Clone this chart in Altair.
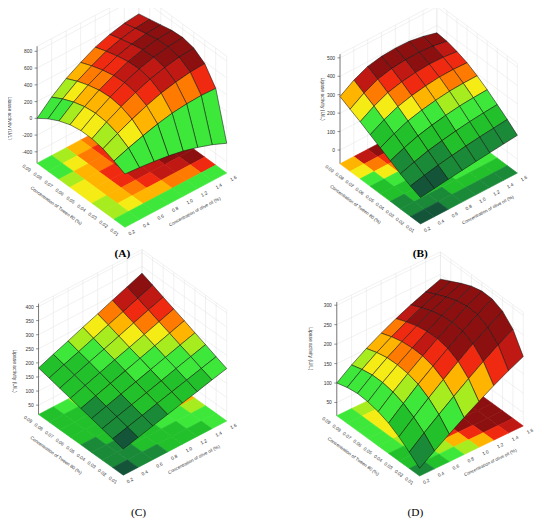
import altair as alt
import pandas as pd

# ---------------- data ----------------
OIL = [0.2, 0.4, 0.6, 0.8, 1.0, 1.2, 1.4, 1.6]
OIL_LABELS = ["0.2", "0.4", "0.6", "0.8", "1.0", "1.2", "1.4", "1.6"]
TWEEN = [0.01, 0.02, 0.03, 0.04, 0.05, 0.06, 0.07, 0.08, 0.09]
TWEEN_LABELS = ["0.01", "0.02", "0.03", "0.04", "0.05", "0.06", "0.07", "0.08", "0.09"]

# lipase activity (U/L); one row per Tween 80 level (0.01 -> 0.09), one column per olive oil level (0.2 -> 1.6)
Z_A = [
    [100, 85, 65, 40, 5, -45, -105, -180],
    [160, 223, 277, 324, 360, 379, 387, 380],
    [210, 300, 379, 447, 504, 543, 570, 580],
    [235, 341, 432, 509, 576, 622, 654, 670],
    [235, 351, 450, 531, 602, 650, 684, 700],
    [210, 334, 438, 521, 594, 643, 676, 690],
    [160, 293, 403, 489, 565, 615, 647, 660],
    [90, 235, 354, 445, 527, 580, 615, 630],
    [0, 160, 290, 390, 480, 540, 580, 600],
]
Z_B = [
    [68, 78, 88, 97, 106, 114, 122, 130],
    [90, 108, 124, 137, 149, 159, 167, 175],
    [115, 140, 162, 177, 190, 201, 209, 215],
    [145, 176, 202, 220, 234, 245, 251, 255],
    [175, 212, 242, 261, 275, 285, 289, 290],
    [205, 247, 279, 299, 312, 321, 323, 320],
    [235, 280, 314, 333, 344, 350, 348, 340],
    [262, 310, 346, 364, 372, 375, 368, 355],
    [290, 340, 375, 390, 395, 393, 380, 360],
]
Z_C = [
    [110, 123, 137, 150, 163, 176, 190, 203],
    [119, 133, 147, 162, 176, 190, 204, 218],
    [128, 143, 158, 173, 188, 204, 219, 234],
    [137, 153, 169, 185, 201, 217, 233, 249],
    [146, 163, 180, 197, 214, 231, 248, 265],
    [155, 173, 191, 209, 226, 244, 262, 280],
    [164, 183, 202, 220, 239, 258, 277, 295],
    [173, 193, 212, 232, 252, 271, 291, 311],
    [182, 203, 223, 244, 264, 285, 305, 326],
]
Z_D = [
    [36, 62, 87, 111, 134, 156, 176, 194],
    [58, 89, 118, 146, 173, 199, 223, 245],
    [78, 110, 141, 170, 198, 225, 249, 272],
    [94, 126, 157, 185, 212, 238, 262, 284],
    [104, 136, 165, 192, 218, 242, 264, 285],
    [110, 141, 168, 193, 217, 239, 259, 278],
    [112, 141, 167, 190, 212, 232, 249, 266],
    [108, 136, 161, 183, 203, 221, 237, 252],
    [100, 128, 152, 173, 192, 209, 224, 238],
]
ZTICKS = {
    "A": [-400, -200, 0, 200, 400, 600, 800],
    "B": [0, 100, 200, 300, 400, 500],
    "C": [50, 100, 150, 200, 250, 300, 350, 400],
    "D": [50, 100, 150, 200, 250, 300],
}
PANELS = ["A", "B", "C", "D"]
SURF = {"A": Z_A, "B": Z_B, "C": Z_C, "D": Z_D}
PANEL_TEXT = {"A": "(A)", "B": "(B)", "C": "(C)", "D": "(D)"}
Z_TITLE = "Lipase activity (U/L)"
TWEEN_TITLE = "Concentration of Tween 80 (%)"
OIL_TITLE = "Concentration of olive oil (%)"

# ---------------- layout of each 3-D box on the page (pixels) ----------------
# L/F/R: left, front and right corners of the floor; zf: floor level; k: px per unit;
# ztop: top of axis/walls; lo/hi: colour range; tdx/tz: z-title placement; px/py: panel letter
LAYOUT = {
    "A": dict(Lx=37.5, Ly=161.7, Fx=126.7, Fy=226.7, Rx=230.0, Ry=171.7, zf=-536, k=0.085,
              ztop=860, lo=-420, hi=660, tdx=-27, tz=0, px=124, py=254, bold=1),
    "B": dict(Lx=345.0, Ly=162.3, Fx=426.7, Fy=223.3, Rx=525.0, Ry=171.7, zf=-75, k=0.187,
              ztop=520, lo=80, hi=370, tdx=-17, tz=276, px=426.5, py=254, bold=1),
    "C": dict(Lx=39.0, Ly=416.7, Fx=125.0, Fy=478.3, Rx=230.0, Ry=423.3, zf=17, k=0.286,
              ztop=410, lo=110, hi=305, tdx=-24, tz=171, px=140.5, py=517, bold=0),
    "D": dict(Lx=341.7, Ly=418.0, Fx=425.8, Fy=479.2, Rx=531.0, Ry=428.3, zf=16, k=0.395,
              ztop=308, lo=10, hi=225, tdx=-26, tz=188, px=421.5, py=517, bold=0),
}
GEO_KEYS = ["Lx", "Ly", "Fx", "Fy", "Rx", "Ry", "zf", "k", "lo", "hi", "tdx", "tz", "ztop"]

TH = [0.1, 0.25, 0.45, 0.58, 0.65, 0.71, 0.77, 0.83, 0.9, 0.96]
COLS = ["#14553a", "#1a8a38", "#22c02a", "#3ee83a", "#a6ec1e", "#f4ec14",
        "#ffb400", "#ff7a00", "#f02a10", "#c01812", "#8c1010"]

O0, OSPAN = OIL[0], OIL[-1] - OIL[0]
T1, TSPAN = TWEEN[-1], TWEEN[-1] - TWEEN[0]


def geo(p):
    return {key: LAYOUT[p][key] for key in GEO_KEYS}


def sx_expr(o, t):
    return (f"datum.Lx + ((({T1}) - datum.{t})/({TSPAN}))*(datum.Fx - datum.Lx)"
            f" + ((datum.{o} - ({O0}))/({OSPAN}))*(datum.Rx - datum.Fx)")


def sy_expr(o, t, z=None):
    e = (f"datum.Ly + ((({T1}) - datum.{t})/({TSPAN}))*(datum.Fy - datum.Ly)"
         f" + ((datum.{o} - ({O0}))/({OSPAN}))*(datum.Ry - datum.Fy)")
    if z:
        e += f" - (datum.{z} - datum.zf)*datum.k"
    return e


# ---------------- cells of the surfaces ----------------
cell_rows = []
for p in PANELS:
    Z = SURF[p]
    g = LAYOUT[p]
    for j in range(len(TWEEN) - 1):
        for i in range(len(OIL) - 1):
            corners = [(i, j), (i + 1, j), (i + 1, j + 1), (i, j + 1)]
            zc = sum(Z[b][a] for a, b in corners) / 4.0
            uc = (i + 0.5) / (len(OIL) - 1)
            vc = 1 - (j + 0.5) / (len(TWEEN) - 1)
            depth = g["Ly"] + vc * (g["Fy"] - g["Ly"]) + uc * (g["Ry"] - g["Fy"])
            for n, (a, b) in enumerate(corners):
                cell_rows.append(dict(panel=p, cell=f"{p}-{i}-{j}", n=n, oil=OIL[a], tween=TWEEN[b],
                                      z=Z[b][a], zc=zc, depth=depth, **geo(p)))
cells = pd.DataFrame(cell_rows).sort_values(["panel", "depth", "cell", "n"]).reset_index(drop=True)

# ---------------- back walls and z axis ----------------
wall_rows, axis_rows = [], []
for p in PANELS:
    g = LAYOUT[p]
    for o in OIL:
        wall_rows.append(dict(o1=o, t1=TWEEN[-1], z1=g["zf"], o2=o, t2=TWEEN[-1], z2=g["ztop"], **geo(p)))
    for t in TWEEN:
        wall_rows.append(dict(o1=OIL[-1], t1=t, z1=g["zf"], o2=OIL[-1], t2=t, z2=g["ztop"], **geo(p)))
    for z in ZTICKS[p] + [g["ztop"]]:
        wall_rows.append(dict(o1=OIL[0], t1=TWEEN[-1], z1=z, o2=OIL[-1], t2=TWEEN[-1], z2=z, **geo(p)))
        wall_rows.append(dict(o1=OIL[-1], t1=TWEEN[-1], z1=z, o2=OIL[-1], t2=TWEEN[0], z2=z, **geo(p)))
    axis_rows.append(dict(o1=OIL[0], t1=TWEEN[-1], z1=g["zf"], o2=OIL[0], t2=TWEEN[-1], z2=g["ztop"], **geo(p)))
walls = pd.DataFrame(wall_rows)
axis_df = pd.DataFrame(axis_rows)

zlab = pd.DataFrame([dict(oil=OIL[0], tween=TWEEN[-1], z=z, label=str(z), **geo(p))
                     for p in PANELS for z in ZTICKS[p]])
tlab = pd.DataFrame([dict(oil=OIL[0], tween=t, label=lab, **geo(p))
                     for p in PANELS for t, lab in zip(TWEEN, TWEEN_LABELS)])
olab = pd.DataFrame([dict(oil=o, tween=TWEEN[0], label=lab, **geo(p))
                     for p in PANELS for o, lab in zip(OIL, OIL_LABELS)])
ttl = pd.DataFrame([dict(oil=OIL[0], tween=TWEEN[4], label=TWEEN_TITLE, **geo(p)) for p in PANELS])
otl = pd.DataFrame([dict(oil=OIL[4] - 0.1, tween=TWEEN[0], label=OIL_TITLE, **geo(p)) for p in PANELS])
ztl = pd.DataFrame([dict(oil=OIL[0], tween=TWEEN[-1], z=LAYOUT[p]["tz"], label=Z_TITLE, **geo(p)) for p in PANELS])
plab = pd.DataFrame([dict(label=PANEL_TEXT[p], x=LAYOUT[p]["px"], y=LAYOUT[p]["py"], bold=LAYOUT[p]["bold"])
                     for p in PANELS])

# ---------------- encodings ----------------
XS = alt.Scale(domain=[8, 550], nice=False, zero=False)
YS = alt.Scale(domain=[8, 521], nice=False, zero=False, reverse=True)
FILL = alt.Scale(type="threshold", domain=TH, range=COLS)
T_EXPR = "clamp((datum.zc - datum.lo)/(datum.hi - datum.lo), 0, 1)"
X = alt.X("sx:Q", scale=XS, axis=None)
Y = alt.Y("sy:Q", scale=YS, axis=None)

wall_layer = alt.Chart(walls).transform_calculate(
    sx=sx_expr("o1", "t1"), sy=sy_expr("o1", "t1", "z1"),
    sx2=sx_expr("o2", "t2"), sy2=sy_expr("o2", "t2", "z2"),
).mark_rule(color="#e2e2e2", strokeWidth=0.5).encode(x=X, y=Y, x2="sx2:Q", y2="sy2:Q")

axis_layer = alt.Chart(axis_df).transform_calculate(
    sx=sx_expr("o1", "t1"), sy=sy_expr("o1", "t1", "z1"),
    sx2=sx_expr("o2", "t2"), sy2=sy_expr("o2", "t2", "z2"),
).mark_rule(color="#444", strokeWidth=0.7).encode(x=X, y=Y, x2="sx2:Q", y2="sy2:Q")

tick_layer = alt.Chart(zlab).transform_calculate(
    sx=sx_expr("oil", "tween"), sy=sy_expr("oil", "tween", "z"),
).transform_calculate(sx2="datum.sx - 2.5").mark_rule(color="#444", strokeWidth=0.6).encode(
    x=X, y=Y, x2="sx2:Q")

floor_layer = alt.Chart(cells).transform_calculate(
    sx=sx_expr("oil", "tween"), sy=sy_expr("oil", "tween"), t=T_EXPR,
).mark_line(interpolate="linear-closed", strokeWidth=0.6).encode(
    x=X, y=Y, detail="cell:N", order=alt.Order("n:Q"),
    fill=alt.Fill("t:Q", scale=FILL, legend=None),
    stroke=alt.Stroke("t:Q", scale=FILL, legend=None),
)

surf_layer = alt.Chart(cells).transform_calculate(
    sx=sx_expr("oil", "tween"), sy=sy_expr("oil", "tween", "z"), t=T_EXPR,
).mark_line(interpolate="linear-closed", strokeWidth=0.6, strokeOpacity=0.9).encode(
    x=X, y=Y, detail="cell:N", order=alt.Order("n:Q"),
    fill=alt.Fill("t:Q", scale=FILL, legend=None),
    stroke=alt.value("#111111"),
)

FONT = "Liberation Sans"
zlab_layer = alt.Chart(zlab).transform_calculate(
    sx=sx_expr("oil", "tween") + " - 5", sy=sy_expr("oil", "tween", "z"),
).mark_text(align="right", baseline="middle", fontSize=5, font=FONT, color="#333").encode(
    x=X, y=Y, text="label:N")

ztitle_layer = alt.Chart(ztl).transform_calculate(
    sx=sx_expr("oil", "tween") + " + datum.tdx", sy=sy_expr("oil", "tween", "z"),
).mark_text(align="center", baseline="middle", fontSize=5, font=FONT, color="#333", angle=90).encode(
    x=X, y=Y, text="label:N")

tlab_layer = alt.Chart(tlab).transform_calculate(
    sx=sx_expr("oil", "tween") + " - 11", sy=sy_expr("oil", "tween") + " + 5.5",
    ang="atan2(datum.Fy - datum.Ly, datum.Fx - datum.Lx)*180/PI",
).mark_text(align="center", baseline="middle", fontSize=4.8, font=FONT, color="#333").encode(
    x=X, y=Y, text="label:N", angle=alt.Angle("ang:Q", scale=None))

olab_layer = alt.Chart(olab).transform_calculate(
    sx=sx_expr("oil", "tween") + " + 7", sy=sy_expr("oil", "tween") + " + 6",
    ang="360 + atan2(datum.Ry - datum.Fy, datum.Rx - datum.Fx)*180/PI",
).mark_text(align="center", baseline="middle", fontSize=4.8, font=FONT, color="#333").encode(
    x=X, y=Y, text="label:N", angle=alt.Angle("ang:Q", scale=None))

ttitle_layer = alt.Chart(ttl).transform_calculate(
    sx=sx_expr("oil", "tween") + " - 25.5", sy=sy_expr("oil", "tween") + " + 11",
    ang="atan2(datum.Fy - datum.Ly, datum.Fx - datum.Lx)*180/PI",
).mark_text(align="center", baseline="middle", fontSize=4.6, font=FONT, color="#333").encode(
    x=X, y=Y, text="label:N", angle=alt.Angle("ang:Q", scale=None))

otitle_layer = alt.Chart(otl).transform_calculate(
    sx=sx_expr("oil", "tween") + " + 19.5", sy=sy_expr("oil", "tween") + " + 12",
    ang="360 + atan2(datum.Ry - datum.Fy, datum.Rx - datum.Fx)*180/PI",
).mark_text(align="center", baseline="middle", fontSize=4.6, font=FONT, color="#333").encode(
    x=X, y=Y, text="label:N", angle=alt.Angle("ang:Q", scale=None))

pl_bold = alt.Chart(plab).transform_filter("datum.bold == 1").transform_calculate(
    sx="datum.x", sy="datum.y").mark_text(
    align="center", baseline="middle", fontSize=11.5, font="Liberation Serif", fontWeight="bold",
    color="#000").encode(x=X, y=Y, text="label:N")
pl_norm = alt.Chart(plab).transform_filter("datum.bold == 0").transform_calculate(
    sx="datum.x", sy="datum.y").mark_text(
    align="center", baseline="middle", fontSize=11.5, font="Liberation Serif",
    color="#000").encode(x=X, y=Y, text="label:N")

chart = alt.layer(
    wall_layer, axis_layer, tick_layer, floor_layer, surf_layer,
    zlab_layer, ztitle_layer, tlab_layer, olab_layer, ttitle_layer, otitle_layer,
    pl_bold, pl_norm,
).properties(
    width=542, height=513, autosize=alt.AutoSizeParams(type="none"), padding=0,
    background="white",
).configure_view(stroke=None)

chart.save("out.html", embed_options={"renderer": "svg", "actions": False})
